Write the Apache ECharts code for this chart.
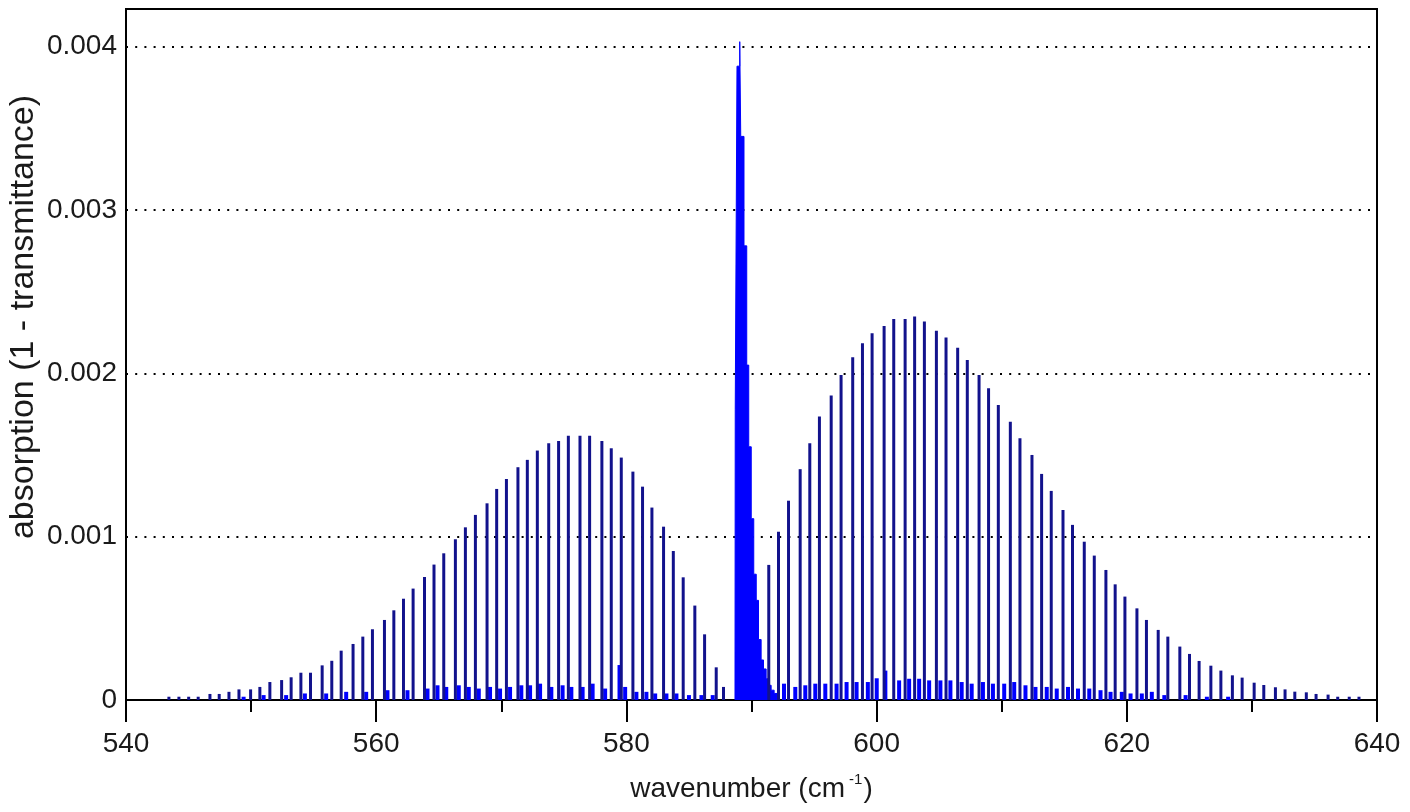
<!DOCTYPE html>
<html>
<head>
<meta charset="utf-8">
<script src="https://cdn.jsdelivr.net/npm/echarts@6/dist/echarts.min.js"></script>
<style>
html,body{margin:0;padding:0;background:#fff;}
#chart{width:1410px;height:812px;}
</style>
</head>
<body>
<div id="chart"></div>
<script>
// Tick labels
const xTickLabels = [540, 560, 580, 600, 620, 640];
const yTickLabels = ['0', '0.001', '0.002', '0.003', '0.004'];

// P-branch lines (wavenumber, absorption)
const pBranchX = [543.43,544.23,545.01,545.77,546.71,547.45,548.23,549.03,549.96,550.70,551.50,552.44,553.20,553.98,554.75,555.68,556.45,557.20,558.15,558.93,559.70,560.66,561.41,562.18,562.95,563.86,564.62,565.40,566.33,567.13,567.93,568.86,569.63,570.41,571.33,572.08,572.88,573.79,574.58,575.36,576.29,577.06,578.04,578.79,579.59,580.52,581.29,582.04,582.97,583.75,584.54,585.47,586.25,587.18,587.76];
const pBranchY = [0.00002,0.00002,0.00002,0.00002,0.000037,0.000037,0.00005,0.000065,0.000065,0.00008,0.00011,0.000122,0.000139,0.000167,0.000167,0.000212,0.00024,0.000302,0.000343,0.000388,0.000433,0.00049,0.000549,0.00062,0.000682,0.000753,0.000829,0.000898,0.000984,0.001057,0.001133,0.001204,0.001292,0.001353,0.001425,0.00147,0.001527,0.001572,0.001586,0.001617,0.001617,0.001617,0.001586,0.001541,0.001484,0.001398,0.001306,0.001178,0.001061,0.000912,0.000751,0.000578,0.000402,0.0002,0.00008];

// R-branch lines
const rBranchX = [591.38,592.16,592.96,593.89,594.66,595.43,596.37,597.16,598.09,598.87,599.64,600.60,601.37,602.28,603.04,603.82,604.78,605.55,606.48,607.25,608.19,608.95,609.73,610.69,611.46,612.42,613.19,613.96,614.90,615.66,616.60,617.40,618.33,619.07,619.85,620.81,621.57,622.51,623.28,624.24,625.01,625.78,626.72,627.52,628.44,629.22,630.18,630.95,631.88,632.65,633.43,634.35,635.13,636.09,636.86,637.78,638.56];
const rBranchY = [0.000827,0.00103,0.00122,0.001413,0.001572,0.001735,0.001864,0.00199,0.002098,0.002184,0.002245,0.00229,0.002333,0.002333,0.002347,0.002317,0.00226,0.002219,0.002157,0.002082,0.00199,0.001909,0.001806,0.001704,0.001603,0.0015,0.001384,0.00128,0.001163,0.001072,0.000969,0.000884,0.000796,0.000708,0.000633,0.000561,0.00049,0.000429,0.000388,0.000327,0.000282,0.000239,0.00021,0.00018,0.000151,0.000137,0.000106,0.000092,0.000078,0.000065,0.000051,0.000047,0.000037,0.000033,0.00002,0.00002,0.00002];

// Q-branch envelope (outline corners)
const qBranchX = [588.68,588.70,588.70,588.84,588.84,589.06,589.06,589.14,589.14,589.40,589.40,589.62,589.62,589.78,589.78,589.98,589.98,590.18,590.18,590.38,590.38,590.56,590.56,590.77,590.77,590.96,590.96,591.17,591.17,591.36,591.36,591.57,591.57,591.81,591.81,592.10,592.10];
const qBranchY = [0,0,0.00178,0.00178,0.00388,0.00388,0.00403,0.00403,0.00345,0.00345,0.00278,0.00278,0.00205,0.00205,0.00155,0.00155,0.00111,0.00111,0.00077,0.00077,0.00061,0.00061,0.00037,0.00037,0.000245,0.000245,0.00019,0.00019,0.00013,0.00013,0.00009,0.00009,0.00006,0.00006,0.00004,0.00004,0];

// Weak (hot-band) lines near the baseline
const weakX = [549.4,551.0,552.8,554.3,556.0,557.6,559.2,560.9,562.5,564.1,564.9,565.6,566.6,567.4,568.2,569.1,569.9,570.7,571.6,572.3,573.1,574.0,574.9,575.6,576.5,577.3,578.3,579.45,579.9,580.8,581.6,582.3,583.2,584.0,585.0,586.0,586.9,592.6,593.5,594.3,595.1,595.9,596.8,597.6,598.4,599.3,600.01,600.7,601.8,602.6,603.4,604.2,605.1,605.9,606.8,607.6,608.5,609.3,610.2,611.0,611.9,612.7,613.6,614.4,615.3,616.1,617.0,617.9,618.7,619.6,620.3,621.2,622.0,623.0,624.7,626.4,628.1];
const weakY = [0.00002,0.00003,0.00003,0.00004,0.00004,0.00005,0.00005,0.00006,0.00006,0.00007,0.00009,0.00008,0.00009,0.00008,0.00007,0.00008,0.00007,0.00008,0.00009,0.00009,0.0001,0.00008,0.00009,0.00008,0.00008,0.0001,0.00007,0.000214,0.00008,0.00005,0.00005,0.00004,0.00004,0.00004,0.00003,0.00003,0.00003,0.0001,0.00008,0.00009,0.0001,0.0001,0.0001,0.00011,0.00011,0.00011,0.000133,0.00018,0.00012,0.00013,0.00013,0.00012,0.00012,0.00012,0.00011,0.0001,0.00011,0.0001,0.0001,0.00011,0.00009,0.00008,0.00008,0.00007,0.00008,0.00007,0.00007,0.00006,0.00005,0.00005,0.00004,0.00004,0.00005,0.00003,0.00003,0.00002,0.00002];

const zip = (xs, ys) => xs.map((x, i) => [x, ys[i]]);
const stickData = zip(pBranchX, pBranchY).concat(zip(rBranchX, rBranchY));
const weakData = zip(weakX, weakY);
const qData = zip(qBranchX, qBranchY);

const FONT = '"Liberation Sans", Arial, Helvetica, sans-serif';
const TXT = '#1a1a1a';

const chart = echarts.init(document.getElementById('chart'), null, {renderer: 'canvas'});

const xAxisBase = {
  type: 'value', min: 540, max: 640, interval: 20
};

chart.setOption({
  animation: false,
  backgroundColor: '#ffffff',
  grid: {left: 126, right: 33, top: 9, bottom: 112, show: true, borderColor: '#000', borderWidth: 2, backgroundColor: 'transparent'},
  xAxis: [
    Object.assign({}, xAxisBase, {
      position: 'bottom',
      axisLine: {show: true, onZero: false, lineStyle: {color: '#000', width: 2}},
      axisTick: {show: true, inside: false, length: 22, lineStyle: {color: '#000', width: 2}},
      minorTick: {show: true, splitNumber: 2, length: 12, lineStyle: {color: '#000', width: 2}},
      splitLine: {show: false},
      axisLabel: {
        show: true, margin: 30, fontSize: 28, color: TXT, fontFamily: FONT,
        formatter: v => xTickLabels.indexOf(Math.round(v)) >= 0 ? String(Math.round(v)) : ''
      },
      name: '{a|wavenumber (cm}{s| -1}{a|)}',
      nameLocation: 'middle',
      nameGap: 72,
      nameTextStyle: {
        fontFamily: FONT,
        rich: {
          a: {fontSize: 28, color: TXT, fontFamily: FONT, lineHeight: 34},
          s: {fontSize: 15, color: TXT, fontFamily: FONT, verticalAlign: 'top', lineHeight: 34, padding: [0, 1, 0, 0]}
        }
      }
    }),
    Object.assign({}, xAxisBase, {
      show: false
    })
  ],
  yAxis: {
    type: 'value', min: 0, max: 0.00423, interval: 0.001,
    axisLine: {show: true, onZero: false, lineStyle: {color: '#000', width: 2}},
    axisTick: {show: false},
    splitLine: {show: true, lineStyle: {color: '#000', width: 2, type: [2, 7.2]}},
    axisLabel: {
      show: true, margin: 9, fontSize: 28, color: TXT, fontFamily: FONT, showMaxLabel: false,
      formatter: v => {
        const idx = Math.round(v * 1000);
        return Math.abs(v * 1000 - idx) < 1e-6 && yTickLabels[idx] !== undefined ? yTickLabels[idx] : '';
      }
    }
  },
  graphic: [{
    type: 'text',
    x: 24, y: 317,
    rotation: Math.PI / 2,
    style: {
      text: 'absorption (1 - transmittance)',
      fontSize: 34,
      fontFamily: FONT,
      fill: TXT,
      align: 'center',
      verticalAlign: 'middle'
    }
  }],
  series: [
    {
      type: 'line', name: 'Q branch', xAxisIndex: 0,
      data: qData, symbol: 'none', z: 2,
      lineStyle: {color: '#0000ff', width: 1},
      areaStyle: {color: '#0000ff', opacity: 1}
    },
    {
      type: 'bar', name: 'weak lines', xAxisIndex: 1,
      data: weakData, barWidth: 4, z: 3,
      itemStyle: {color: '#0000ff'}
    },
    {
      type: 'bar', name: 'P/R lines', xAxisIndex: 0,
      data: stickData, barWidth: 3, z: 4,
      itemStyle: {color: '#12128c'}
    }
  ]
});
</script>
</body>
</html>
